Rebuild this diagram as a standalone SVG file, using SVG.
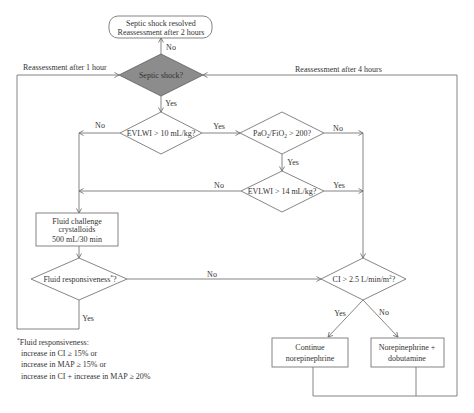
<svg xmlns="http://www.w3.org/2000/svg" width="474" height="413" viewBox="0 0 474 413">
<defs>
<marker id="arr" markerWidth="6" markerHeight="6" refX="5" refY="3" orient="auto" markerUnits="userSpaceOnUse">
<path d="M0.5,0.5 L5,3 L0.5,5.5" fill="none" stroke="#666" stroke-width="0.8"/>
</marker>
<style>
.t{font-family:"Liberation Serif","Times New Roman",serif;font-size:8px;fill:#333;text-anchor:middle}
.l{text-anchor:start}
.box{fill:#fff;stroke:#777;stroke-width:0.9}
.dia{fill:#fff;stroke:#777;stroke-width:0.9}
.c{fill:none;stroke:#777;stroke-width:0.9}
.a{marker-end:url(#arr)}
.sub{font-size:5.5px}
</style>
</defs>
<rect width="474" height="413" fill="#fff"/>

<g id="connectors">
<path class="c a" d="M161,54 V38"/>
<path class="c a" d="M161,96 V112"/>
<path class="c a" d="M120,133 H79"/>
<path class="c a" d="M79,133 V213"/>
<path class="c a" d="M202,133 H240"/>
<path class="c a" d="M324,133 H363"/>
<path class="c a" d="M363,133 V258"/>
<path class="c a" d="M282,154 V171"/>
<path class="c a" d="M241,191 H79"/>
<path class="c a" d="M324,191 H363"/>
<path class="c a" d="M79,246 V258"/>
<path class="c a" d="M127,279 H321"/>
<path class="c a" d="M79,300 V329 H17 V75 H119"/>
<path class="c a" d="M363,300 L328,337"/>
<path class="c a" d="M363,300 L398,337"/>
<path class="c a" d="M313,367 V396 H457 V75 H203"/>
<path class="c" d="M416,367 V396"/>
<text class="t" x="171" y="50">No</text>
<text class="t" x="171" y="106">Yes</text>
<text class="t" x="100" y="128">No</text>
<text class="t" x="219" y="129">Yes</text>
<text class="t" x="338" y="131">No</text>
<text class="t" x="293" y="165">Yes</text>
<text class="t" x="219" y="188">No</text>
<text class="t" x="339" y="188">Yes</text>
<text class="t" x="212" y="277">No</text>
<text class="t" x="88" y="321">Yes</text>
<text class="t" x="340" y="316">Yes</text>
<text class="t" x="384" y="315">No</text>
<text class="t l" x="23" y="70">Reassessment after 1 hour</text>
<text class="t l" x="295" y="72">Reassessment after 4 hours</text>
</g>

<g id="resolved">
<rect class="box" x="109" y="16" width="103" height="22" rx="9"/>
<text class="t" x="161" y="26">Septic shock resolved</text>
<text class="t" x="161" y="35">Reassessment after 2 hours</text>
</g>

<g id="septic">
<polygon points="119,75 161,54 203,75 161,96" fill="#8c8c8c" stroke="#666" stroke-width="0.9"/>
<text class="t" x="161" y="78" fill="#222">Septic shock?</text>
</g>

<g id="evlwi10">
<polygon class="dia" points="120,133 161,112 202,133 161,154"/>
<text class="t" x="161" y="136">EVLWI &gt; 10 mL/kg?</text>
</g>

<g id="pao2">
<polygon class="dia" points="240,133 282,112 324,133 282,154"/>
<text class="t" x="282" y="136">PaO<tspan class="sub" dy="1.5">2</tspan><tspan dy="-1.5">/FiO</tspan><tspan class="sub" dy="1.5">2</tspan><tspan dy="-1.5"> &gt; 200?</tspan></text>
</g>

<g id="evlwi14">
<polygon class="dia" points="241,191 282,171 324,191 282,212"/>
<text class="t" x="282" y="194">EVLWI &gt; 14 mL/kg?</text>
</g>

<g id="fluidchallenge">
<rect class="box" x="36" y="213" width="82" height="33"/>
<text class="t" x="77" y="224">Fluid challenge</text>
<text class="t" x="77" y="232">crystalloids</text>
<text class="t" x="77" y="242">500 mL/30 min</text>
</g>

<g id="fluidresp">
<polygon class="dia" points="31,279 79,258 127,279 79,300"/>
<text class="t" x="80" y="282">Fluid responsiveness<tspan class="sub" dy="-3">*</tspan><tspan dy="3">?</tspan></text>
</g>

<g id="ci">
<polygon class="dia" points="321,279 363,258 406,279 363,300"/>
<text class="t" x="364" y="282">CI &gt; 2.5 L/min/m<tspan class="sub" dy="-3">2</tspan><tspan dy="3">?</tspan></text>
</g>

<g id="continue">
<rect class="box" x="272" y="338" width="76" height="29"/>
<text class="t" x="310" y="350">Continue</text>
<text class="t" x="310" y="361">norepinephrine</text>
</g>

<g id="dobutamine">
<rect class="box" x="371" y="338" width="73" height="29"/>
<text class="t" x="407" y="350">Norepinephrine +</text>
<text class="t" x="407" y="361">dobutamine</text>
</g>

<g id="footnote">
<text class="t l" x="17" y="345"><tspan class="sub" dy="-3">*</tspan><tspan dy="3">Fluid responsiveness:</tspan></text>
<text class="t l" x="21" y="356">increase in CI ≥ 15% or</text>
<text class="t l" x="21" y="367">increase in MAP ≥ 15% or</text>
<text class="t l" x="21" y="379">increase in CI + increase in MAP ≥ 20%</text>
</g>
</svg>
